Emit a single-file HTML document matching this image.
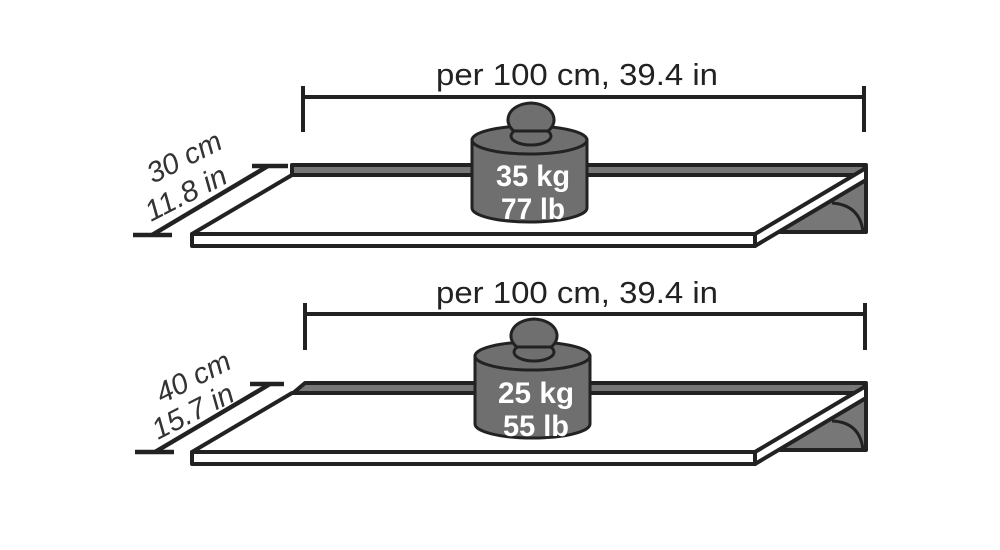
<!DOCTYPE html>
<html><head><meta charset="utf-8"><style>body{margin:0;background:#fff}svg{display:block}</style></head>
<body>
<svg width="1000" height="550" viewBox="0 0 1000 550" xmlns="http://www.w3.org/2000/svg" font-family="Liberation Sans, sans-serif">
<!-- TOP -->
<g stroke="#222" stroke-width="4" stroke-linejoin="round">
  <line x1="303" y1="97" x2="864" y2="97"/>
  <line x1="303" y1="86" x2="303" y2="132"/>
  <line x1="864" y1="86" x2="864" y2="132"/>
  <polygon points="866,167 866,232 780,232" fill="#777"/>
  <path d="M832,203 Q860,205 863,232" fill="none" stroke-width="3"/>
  <polygon points="292,165 866,165 860,176 292,176" fill="#777"/>
  <polygon points="292,175 862,175 755,234 192,234" fill="#fff"/>
  <polygon points="755,234 866,168 866,180 755,246" fill="#fff"/>
  <rect x="192" y="234" width="563" height="12" fill="#fff"/>
  <line x1="152" y1="235" x2="268" y2="166" stroke-width="4.5"/>
  <line x1="252" y1="166" x2="288" y2="166" stroke-width="4.5"/>
  <line x1="133" y1="235" x2="172" y2="235" stroke-width="4.5"/>
  <path d="M472,140 L472,208 A57.5,14 0 0 0 587,208 L587,140 Z" fill="#6f6f6f" stroke-width="3"/>
  <ellipse cx="529.5" cy="140" rx="57.5" ry="14" fill="#6f6f6f" stroke-width="3"/>
  <ellipse cx="531" cy="136" rx="20" ry="9" fill="#6f6f6f" stroke-width="3"/>
  <path d="M514,131 C502,122 508,104 531,103 C554,104 560,122 548,131 Z" fill="#6f6f6f" stroke-width="3"/>
</g>
<text x="577" y="85" font-size="31" text-anchor="middle" fill="#222" textLength="282" lengthAdjust="spacingAndGlyphs">per 100 cm, 39.4 in</text>
<text x="533" y="186" font-size="30" font-weight="bold" text-anchor="middle" fill="#fff" textLength="74" lengthAdjust="spacingAndGlyphs">35 kg</text>
<text x="533" y="219" font-size="30" font-weight="bold" text-anchor="middle" fill="#fff" textLength="64" lengthAdjust="spacingAndGlyphs">77 lb</text>
<text font-size="29" font-style="italic" fill="#333" transform="translate(153,184) rotate(-27)" textLength="80" lengthAdjust="spacingAndGlyphs">30 cm</text>
<text font-size="29" font-style="italic" fill="#333" transform="translate(151,222) rotate(-27)" textLength="88" lengthAdjust="spacingAndGlyphs">11.8 in</text>

<!-- BOTTOM -->
<g stroke="#222" stroke-width="4" stroke-linejoin="round">
  <line x1="305" y1="314" x2="865" y2="314"/>
  <line x1="305" y1="303" x2="305" y2="350"/>
  <line x1="865" y1="303" x2="865" y2="350"/>
  <polygon points="866,385 866,450 780,450" fill="#777"/>
  <path d="M832,421 Q860,422 863,450" fill="none" stroke-width="3"/>
  <polygon points="305,383 866,383 860,394 292,394" fill="#777"/>
  <polygon points="292,393 862,393 755,452 192,452" fill="#fff"/>
  <polygon points="755,452 866,386 866,398 755,464" fill="#fff"/>
  <rect x="192" y="452" width="563" height="12" fill="#fff"/>
  <line x1="155" y1="452" x2="270" y2="384" stroke-width="4.5"/>
  <line x1="250" y1="384" x2="284" y2="384" stroke-width="4.5"/>
  <line x1="135" y1="452" x2="174" y2="452" stroke-width="4.5"/>
  <path d="M475,356 L475,424 A57.5,14 0 0 0 590,424 L590,356 Z" fill="#6f6f6f" stroke-width="3"/>
  <ellipse cx="532.5" cy="356" rx="57.5" ry="14" fill="#6f6f6f" stroke-width="3"/>
  <ellipse cx="534" cy="352" rx="20" ry="9" fill="#6f6f6f" stroke-width="3"/>
  <path d="M517,347 C505,338 511,320 534,319 C557,320 563,338 551,347 Z" fill="#6f6f6f" stroke-width="3"/>
</g>
<text x="577" y="303" font-size="31" text-anchor="middle" fill="#222" textLength="282" lengthAdjust="spacingAndGlyphs">per 100 cm, 39.4 in</text>
<text x="536" y="403" font-size="30" font-weight="bold" text-anchor="middle" fill="#fff" textLength="76" lengthAdjust="spacingAndGlyphs">25 kg</text>
<text x="536" y="436" font-size="30" font-weight="bold" text-anchor="middle" fill="#fff" textLength="66" lengthAdjust="spacingAndGlyphs">55 lb</text>
<text font-size="29" font-style="italic" fill="#333" transform="translate(162,404) rotate(-27)" textLength="80" lengthAdjust="spacingAndGlyphs">40 cm</text>
<text font-size="29" font-style="italic" fill="#333" transform="translate(158,440) rotate(-27)" textLength="88" lengthAdjust="spacingAndGlyphs">15.7 in</text>
</svg>
</body></html>
